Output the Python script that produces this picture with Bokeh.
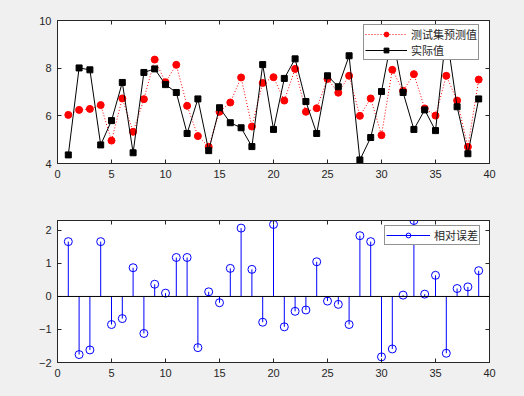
from bokeh.plotting import figure
from bokeh.layouts import column
from bokeh.models import LinearAxis, Span, Legend, LegendItem, FixedTicker, Range1d
from bokeh.embed import file_html
from bokeh.resources import INLINE

# ---- data ----
idx = list(range(1, 40))
actual = [4.36, 8.01, 7.93, 4.78, 5.80, 7.40, 4.45, 7.82, 7.97, 7.31,
          6.98, 5.26, 6.71, 4.54, 6.34, 5.71, 5.50, 4.71, 8.15, 5.43,
          7.57, 8.39, 6.60, 5.26, 7.68, 7.22, 8.52, 4.15, 5.09, 7.02,
          9.40, 6.98, 5.43, 6.25, 5.38, 9.50, 6.38, 4.41, 6.71]
predicted = [6.04, 6.25, 6.29, 6.45, 4.96, 6.73, 5.33, 6.70, 8.36, 7.41,
             8.14, 6.42, 5.15, 4.70, 6.17, 6.56, 7.61, 5.55, 7.38, 7.62,
             6.64, 7.97, 6.17, 6.32, 7.55, 6.97, 7.68, 6.00, 6.73, 5.19,
             7.93, 7.05, 7.75, 6.31, 6.01, 7.68, 6.64, 4.70, 7.52]
rel_err = [1.66, -1.76, -1.62, 1.66, -0.85, -0.67, 0.87, -1.12, 0.37, 0.10,
           1.18, 1.18, -1.55, 0.14, -0.19, 0.85, 2.07, 0.82, -0.78, 2.18,
           -0.92, -0.45, -0.41, 1.05, -0.14, -0.24, -0.85, 1.84, 1.66, -1.83,
           -1.59, 0.04, 2.30, 0.07, 0.64, -1.72, 0.24, 0.29, 0.78]
x_ticks = [0, 5, 10, 15, 20, 25, 30, 35, 40]
y1_ticks = [4, 6, 8, 10]
y2_ticks = [-2, -1, 0, 1, 2]
label_pred = "测试集预测值"
label_act = "实际值"
label_err = "相对误差"

AX = "#262626"
BG = "#f0f0f0"
TICK_FONT = "Liberation Sans"
CJK = "Noto Sans CJK SC"


def style(p, yt):
    p.background_fill_color = "white"
    p.border_fill_color = BG
    p.outline_line_color = AX
    p.outline_line_width = 1
    p.grid.visible = False
    for ax in p.xaxis + p.yaxis:
        ax.axis_line_color = AX
        ax.major_tick_line_color = AX
        ax.major_tick_in = 4
        ax.major_tick_out = 0
        ax.minor_tick_line_color = None
        ax.major_label_text_color = AX
        ax.major_label_text_font = TICK_FONT
        ax.major_label_text_font_size = "11px"
    p.xaxis.ticker = FixedTicker(ticks=x_ticks)
    p.yaxis.ticker = FixedTicker(ticks=yt)
    p.xaxis.major_label_standoff = 6
    p.yaxis.major_label_standoff = 6
    # mirrored ticks on top and right
    top = LinearAxis(ticker=FixedTicker(ticks=x_ticks),
                     major_label_overrides={t: "" for t in x_ticks})
    right = LinearAxis(ticker=FixedTicker(ticks=yt),
                       major_label_overrides={t: "" for t in yt})
    for ax in (top, right):
        ax.axis_line_color = AX
        ax.major_tick_line_color = AX
        ax.major_tick_in = 4
        ax.major_tick_out = 0
        ax.minor_tick_line_color = None
        ax.major_label_text_font_size = "1px"
    p.add_layout(top, "above")
    p.add_layout(right, "right")


def style_legend(leg, glyph_w):
    leg.label_text_font = CJK
    leg.label_text_font_size = "11px"
    leg.label_text_line_height = 1.0
    leg.label_text_color = AX
    leg.glyph_width = glyph_w
    leg.glyph_height = 12
    leg.label_height = 12
    leg.spacing = 0
    leg.padding = 1
    leg.margin = 0
    leg.label_standoff = 4
    leg.border_line_color = AX
    leg.border_line_width = 1
    leg.background_fill_color = "white"
    leg.background_fill_alpha = 1


# ---- top plot ----
p1 = figure(width=524, height=198, output_backend="svg", toolbar_location=None,
            x_range=Range1d(0, 40), y_range=Range1d(4, 10),
            min_border_left=57, min_border_right=35, min_border_top=20, min_border_bottom=35)
style(p1, y1_ticks)
lp = p1.line(idx, predicted, line_color="red", line_width=1, line_dash="1 2")
sp = p1.scatter(idx, predicted, marker="circle", size=7, fill_color="red", line_color="red")
la = p1.line(idx, actual, line_color="black", line_width=1)
sa = p1.scatter(idx, actual, marker="square", size=6, fill_color="black", line_color="black")
leg1 = Legend(items=[LegendItem(label=label_pred, renderers=[lp, sp]),
                     LegendItem(label=label_act, renderers=[la, sa])],
              location=(306, 103))
style_legend(leg1, 42)
p1.add_layout(leg1, "center")

# ---- bottom plot ----
p2 = figure(width=524, height=198, output_backend="svg", toolbar_location=None,
            x_range=Range1d(0, 40), y_range=Range1d(-2, 2.3),
            min_border_left=57, min_border_right=35, min_border_top=22, min_border_bottom=34)
style(p2, y2_ticks)
p2.add_layout(Span(location=0, dimension="width", line_color="black", line_width=1))
st = p2.segment(x0=idx, y0=[0] * len(idx), x1=idx, y1=rel_err, line_color="blue", line_width=1)
sc = p2.scatter(idx, rel_err, marker="circle", size=8, fill_color=None, line_color="blue", line_width=1)
leg2 = Legend(items=[LegendItem(label=label_err, renderers=[st, sc])], location=(327, 117))
style_legend(leg2, 44)
p2.add_layout(leg2, "center")

layout = column(p1, p2, spacing=0, styles={"background-color": BG})
open("out.html", "w").write(file_html(layout, INLINE))
